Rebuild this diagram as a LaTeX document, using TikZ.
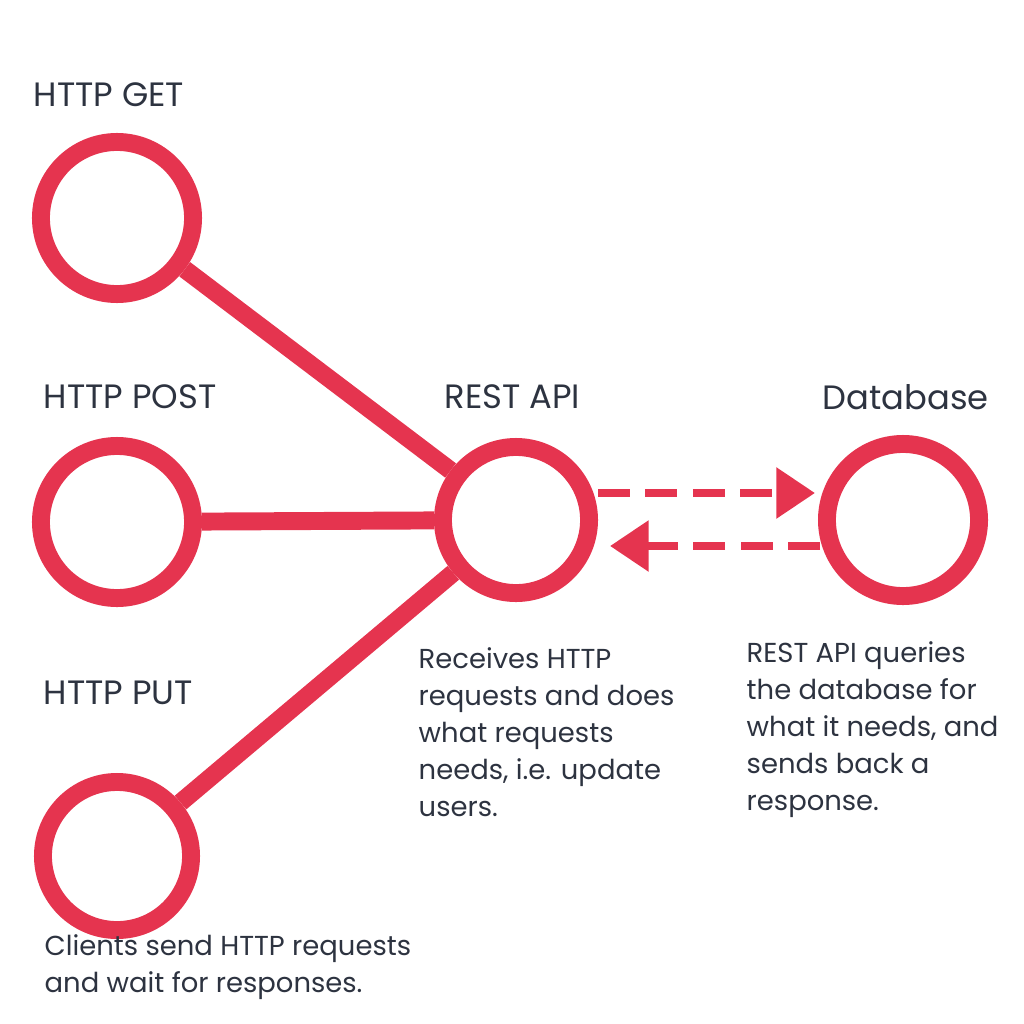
\documentclass[tikz,border=0pt]{standalone}
\usepackage{fontspec}
\setmainfont{Poppins}
\usetikzlibrary{arrows.meta}
\definecolor{rc}{HTML}{E5344F}
\definecolor{tc}{HTML}{2D3340}
\begin{document}
\begin{tikzpicture}[x=0.01cm,y=-0.01cm,
  ring/.style={circle,draw=rc,line width=5.1pt,minimum size=1.52cm,inner sep=0pt},
  link/.style={draw=rc,line width=5.1pt},
  dlink/.style={draw=rc,line width=2.4pt,dash pattern=on 9pt off 4.5pt,-{Triangle[length=11pt,width=14pt]}},
  title/.style={text=tc,font=\fontsize{9.6pt}{11pt}\selectfont,anchor=west,inner sep=0pt},
  desc/.style={text=tc,font=\fontsize{7.8pt}{10.5pt}\selectfont,anchor=north west,align=left,inner sep=0pt}]
\useasboundingbox (0,0) rectangle (1024,1024);
\node[ring] (get) at (117,218) {};
\node[ring] (post) at (117,522) {};
\node[ring,minimum size=1.48cm] (put) at (117,856) {};
\node[ring,minimum size=1.46cm] (rest) at (516,520) {};
\node[ring] (db) at (903,520) {};
\draw[link] (get) -- (rest);
\draw[link] (post) -- (rest);
\draw[link] (put) -- (rest);
\coordinate (a1) at (598,493); \coordinate (a2) at (815,493);
\coordinate (b1) at (820,546); \coordinate (b2) at (610,546);
\draw[dlink] (a1) -- (a2);
\draw[dlink] (b1) -- (b2);
\node[title] (tget) at (33,95) {HTTP GET};
\node[title] (tpost) at (43,397) {HTTP POST};
\node[title] (tput) at (43,693) {HTTP PUT};
\node[title] (trest) at (444,397) {REST API};
\node[title] (tdb) at (822,397) {Database};
\node[desc] (drest) at (418,647) {Receives HTTP\\requests and does\\what requests\\needs, i.e. update\\users.};
\node[desc] (ddb) at (746,641) {REST API queries\\the database for\\what it needs, and\\sends back a\\response.};
\node[desc] (dcl) at (44,934) {Clients send HTTP requests\\and wait for responses.};
\end{tikzpicture}
\end{document}
